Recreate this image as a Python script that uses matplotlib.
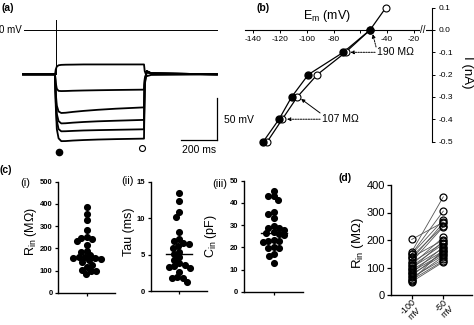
import matplotlib
matplotlib.use("Agg")
import matplotlib.pyplot as plt
import numpy as np

plt.rcParams["font.family"] = ["Liberation Sans", "DejaVu Sans"]
plt.rcParams["mathtext.default"] = "regular"
plt.rcParams["axes.unicode_minus"] = False

W, H = 474, 325

# (a) voltage responses to current steps (time in ms, voltage in mV)
t_ms = [0, 180, 184, 190, 200, 215, 240, 280, 340, 420, 520, 680, 684, 695, 720, 1090]
trace_p01 = [-52.8, -52.8, -47, -43.5, -42, -41.5, -41.3, -41.2, -41, -41, -41, -41, -49, -55, -53.5, -52.8]
trace_m01 = [-52.8, -52.8, -63, -70, -72.5, -72.7, -72.6, -72.3, -72, -71.7, -71.4, -71, -58, -50.5, -52, -52.8]
trace_m02 = [-52.8, -52.8, -75, -90, -97, -98.8, -98.5, -97.5, -96.3, -95, -93.7, -92.1, -60, -49, -51.5, -52.8]
trace_m03 = [-52.8, -52.8, -80, -100, -108.5, -111.2, -111, -110.3, -109.5, -108.7, -108, -107, -62, -49, -51.5, -52.8]
trace_m04 = [-52.8, -52.8, -85, -108, -118, -120.6, -120.5, -120.1, -119.6, -119.2, -118.8, -118.2, -64, -49, -51.5, -52.8]
trace_m05 = [-52.8, -52.8, -90, -118, -129, -132.3, -132.2, -131.6, -131, -130.4, -129.9, -129.3, -66, -49, -51.5, -52.8]
rest_mv = -52.8
artifact_t, artifact_top = 185, 12
peak_t, ss_t = 202, 669

# (b) I-V relation: open = steady state, filled = peak
i_open = [0.1, 0.0, -0.1, -0.2, -0.3, -0.4, -0.5]
v_open = [-41, -52.8, -71, -92.1, -107, -118.2, -129.3]
i_filled = [0.0, -0.1, -0.2, -0.3, -0.4, -0.5]
v_filled = [-52.8, -72.7, -98.8, -111.2, -120.6, -132.3]

# (c) passive properties
rin = [387, 355, 327, 282, 250, 246, 240, 232, 215, 190, 182, 170, 162,
       160, 158, 155, 150, 146, 140, 125, 118, 103, 100, 97, 85]
tau = [13.4, 12.3, 10.8, 10.2, 8.1, 7.1, 6.8, 6.6, 6.4, 6.2, 5.9, 5.4, 5.1,
       4.6, 4.2, 3.8, 3.6, 3.4, 3.3, 3.2, 2.6, 1.9, 1.8, 1.8, 1.3]
cin = [45.5, 43, 43, 41.5, 36, 35.2, 33, 29.5, 28.8, 28.5, 28, 27, 26.6,
       26, 25.5, 23.5, 23, 22.8, 22.5, 20, 19.7, 19.5, 17, 16, 12.8]

# (d) paired Rin at two holding potentials
rin_100 = [202, 157, 150, 148, 140, 137, 130, 121, 118, 110, 105, 100,
           95, 91, 85, 80, 76, 70, 64, 60, 55, 48, 52]
rin_50 = [265, 357, 305, 273, 250, 200, 262, 248, 190, 210, 185, 170,
          196, 160, 150, 175, 145, 157, 130, 140, 124, 120, 165]


def add_ax(left, top, right, bottom):
    a = fig.add_axes([left / W, 1 - bottom / H, (right - left) / W, (bottom - top) / H])
    a.patch.set_visible(False)
    return a


def swarm(vals, px_per_unit, d):
    vals = np.asarray(vals, float)
    placed = []
    xs = np.zeros(len(vals))
    cands = sorted(np.arange(-30, 30.5, 0.5), key=abs)
    for i in np.argsort(vals)[::-1]:
        y = vals[i] * px_per_unit
        for c in cands:
            if all((c - px) ** 2 + (y - py) ** 2 >= d * d for px, py in placed):
                break
        placed.append((c, y))
        xs[i] = c
    return xs


fig = plt.figure(figsize=(W / 100, H / 100), dpi=100)

# ---- (a) traces ----
ax = add_ax(0, 15, 240, 165)
ax.set_xlim(-129.3, 1219.5)
ax.set_ylim(-160.7, 17.86)
ax.axis("off")
ax.plot([5.6, 1090], [0, 0], color="k", lw=0.7)
ax.text(-6, 0, "0 mV", ha="right", va="center", fontsize=7)
ax.plot([artifact_t, artifact_t], [rest_mv, artifact_top], color="k", lw=0.7)
for tr in [trace_p01, trace_m01, trace_m02, trace_m03, trace_m04, trace_m05]:
    ax.plot(t_ms, tr, color="k", lw=1.3, solid_joinstyle="round")
ax.plot(peak_t, -145, "o", color="k", ms=4.5)
ax.plot(ss_t, -140.5, "o", mfc="white", mec="k", ms=4.3, mew=0.8)
# scale bars
ax.plot([1090, 1090], [-81, -131], color="k", lw=0.9)
ax.plot([890, 1090], [-131, -131], color="k", lw=0.9)
ax.text(1130, -107, "50 mV", ha="left", va="center", fontsize=7.5, zorder=10)
ax.text(990, -143, "200 ms", ha="center", va="center", fontsize=7.5)
fig.text(2 / W, 1 - 8 / H, "(a)", fontsize=7.5, fontweight="bold", va="center")

# ---- (b) I-V ----
ax = add_ax(240, 0, 432, 150)
ax.set_xlim(-149.7, -6.6)
ax.set_ylim(-0.538, 0.1345)
for s in ["top", "left"]:
    ax.spines[s].set_visible(False)
ax.spines["bottom"].set_position(("data", 0))
ax.spines["bottom"].set_bounds(-146, -6.6)
ax.spines["right"].set_bounds(-0.5, 0.1)
for s in ["bottom", "right"]:
    ax.spines[s].set_linewidth(0.8)
ax.set_xticks([-140, -120, -100, -80, -60, -40, -20])
ax.set_xticklabels(["-140", "-120", "-100", "-80", "", "-40", "-20"])
ax.yaxis.tick_right()
ax.set_yticks([0.1, 0.0, -0.1, -0.2, -0.3, -0.4, -0.5])
ax.set_yticklabels(["0.1", "0.0", "-0.1", "-0.2", "-0.3", "-0.4", "-0.5"])
ax.tick_params(axis="both", labelsize=6, length=2.5, width=0.7, pad=2)
ax.text(-13.3, 0, "//", ha="center", va="center", fontsize=7,
        bbox=dict(fc="white", ec="none", pad=0.3))
ax.plot(v_open, i_open, color="k", lw=0.9, zorder=2)
ax.plot(v_filled, i_filled, color="k", lw=0.9, zorder=2)
ax.plot(v_open, i_open, "o", mfc="white", mec="k", ms=5, mew=0.8, zorder=3)
ax.plot(v_filled, i_filled, "o", color="k", ms=5, zorder=4)
dotted = dict(arrowstyle="-|>", color="k", lw=0.7, linestyle=(0, (1.5, 1.2)),
              mutation_scale=5, shrinkA=0, shrinkB=0)
ax.text(-47.6, -0.1, "190 M\u03a9", ha="left", va="center", fontsize=7.5)
ax.annotate("", xy=(-67.5, -0.1), xytext=(-49, -0.1), arrowprops=dotted)
ax.annotate("", xy=(-50.8, -0.018), xytext=(-48.3, -0.076), arrowprops=dotted)
ax.text(-88.6, -0.397, "107 M\u03a9", ha="left", va="center", fontsize=7.5)
ax.annotate("", xy=(-114.7, -0.4), xytext=(-90, -0.4), arrowprops=dotted)
ax.annotate("", xy=(-104.2, -0.309), xytext=(-90, -0.372),
            arrowprops=dict(arrowstyle="-|>", color="k", lw=0.7,
                            mutation_scale=5, shrinkA=0, shrinkB=0))
fig.text(327 / W, 1 - 16 / H, "E$_m$ (mV)", ha="center", va="center", fontsize=9)
fig.text(467 / W, 1 - 72 / H, "I (nA)", ha="center", va="center", fontsize=9.5,
         rotation=270)
fig.text(263 / W, 1 - 8 / H, "(b)", ha="center", va="center", fontsize=7.5,
         fontweight="bold")

# ---- (c) scatter-dot plots ----
fig.text(0, 1 - 170 / H, "(c)", va="center", fontsize=7.5, fontweight="bold")
panels_c = [
    (rin, (58.3, 181.7, 115, 292.7), 500, 100, "(i)", 25, 183, "R$_{in}$ (M\u03a9)", 31, 231),
    (tau, (151, 181.7, 207, 291), 15, 5, "(ii)", 128, 181, "Tau (ms)", 129, 232),
    (cin, (244, 180.7, 303, 291.7), 50, 10, "(iii)", 220, 184, "C$_{in}$ (pF)", 211, 236),
]
for vals, box, ymax, step, tag, tx, ty, lab, lx, ly in panels_c:
    ax = add_ax(*box)
    hpx = box[3] - box[1]
    wpx = box[2] - box[0]
    ax.set_ylim(0, ymax)
    ax.set_xlim(-1, 1)
    offs = swarm(vals, hpx / ymax, 5.4) * 2 / wpx
    ax.plot(offs, vals, "o", color="k", ms=4.1, clip_on=False)
    med = np.median(vals)
    ax.plot([-13 * 2 / wpx, 13 * 2 / wpx], [med, med], color="k", lw=1)
    ax.set_yticks(np.arange(0, ymax + 1, step))
    ax.set_xticks([0])
    ax.set_xticklabels([""])
    for s in ["top", "right"]:
        ax.spines[s].set_visible(False)
    for s in ["left", "bottom"]:
        ax.spines[s].set_linewidth(1)
    ax.tick_params(labelsize=5.5, length=2.5, width=0.9, pad=1.5)
    for t in ax.get_yticklabels():
        t.set_fontweight("bold")
    fig.text(tx / W, 1 - ty / H, tag, ha="center", va="center", fontsize=8)
    fig.text(lx / W, 1 - ly / H, lab, ha="center", va="center", fontsize=9,
             rotation=90)

# ---- (d) paired Rin ----
ax = add_ax(391, 185, 471.7, 295)
ax.set_xlim(-0.655, 1.899)
ax.set_ylim(0, 400)
for a, b in zip(rin_100, rin_50):
    ax.plot([0, 1], [a, b], color="#555555", lw=0.6, zorder=1)
ax.plot([0] * len(rin_100), rin_100, "o", mfc="none", mec="k", ms=5, mew=0.9, zorder=2)
ax.plot([1] * len(rin_50), rin_50, "o", mfc="none", mec="k", ms=5, mew=0.9, zorder=2)
for s in ["top", "right"]:
    ax.spines[s].set_visible(False)
for s in ["left", "bottom"]:
    ax.spines[s].set_linewidth(1)
ax.set_yticks([0, 100, 200, 300, 400])
ax.set_xticks([0, 1])
ax.set_xticklabels(["-100\nmV", "-50\nmV"], rotation=45, ha="right", va="top",
                   rotation_mode="anchor", multialignment="center",
                   linespacing=0.95)
ax.tick_params(axis="y", labelsize=8, length=3, width=0.9, pad=1.5)
ax.tick_params(axis="x", labelsize=6.5, length=3, width=0.9, pad=-1)
fig.text(358 / W, 1 - 243 / H, "R$_{in}$ (M\u03a9)", ha="center", va="center",
         fontsize=9.5, rotation=90)
fig.text(345 / W, 1 - 178 / H, "(d)", ha="center", va="center", fontsize=7.5,
         fontweight="bold")

fig.savefig("out.png", dpi=100)
